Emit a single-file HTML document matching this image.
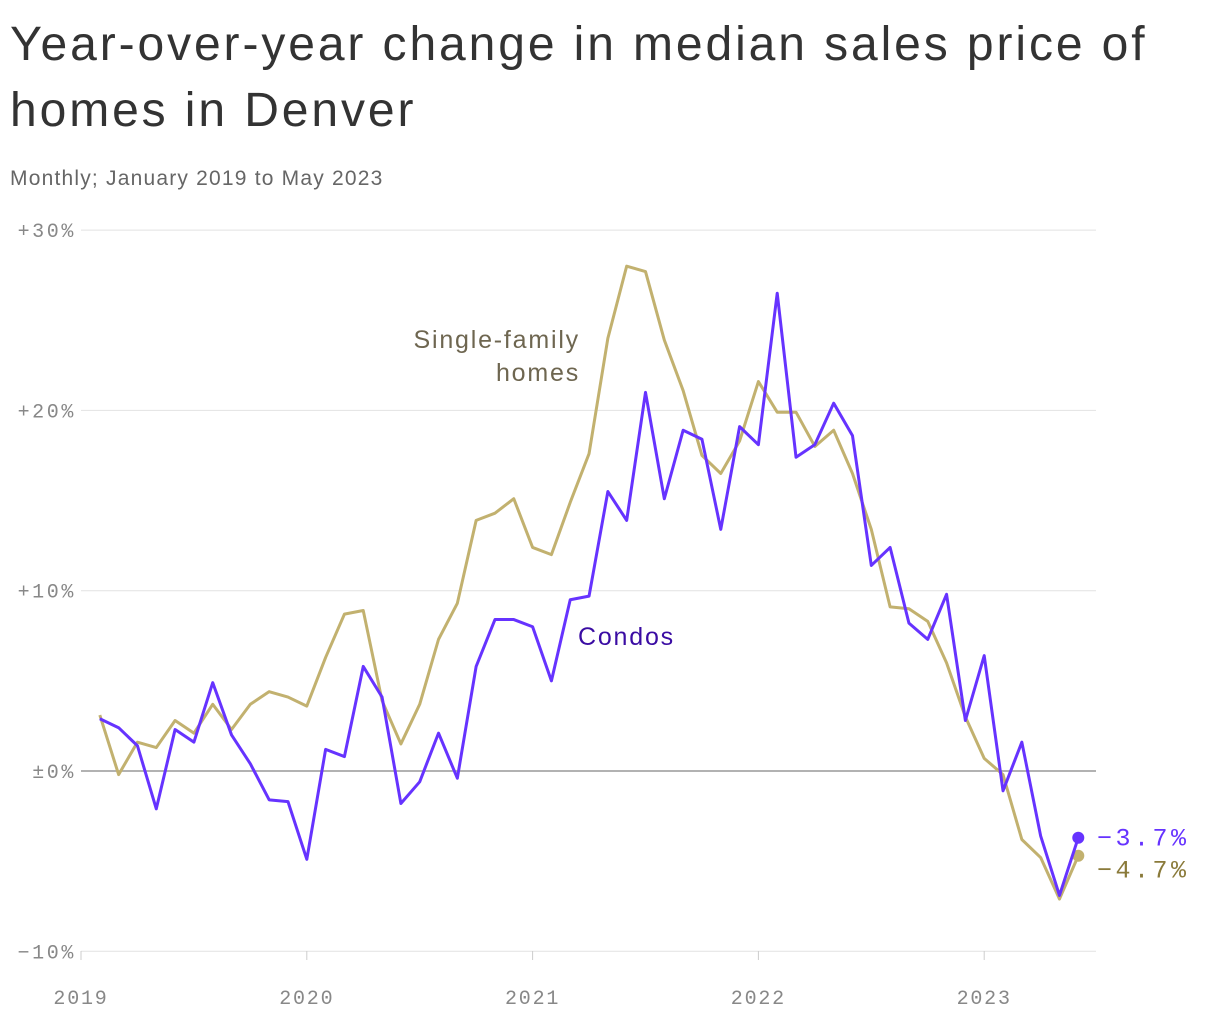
<!DOCTYPE html>
<html><head><meta charset="utf-8"><style>
body{margin:0;background:#fff;width:1220px;height:1020px;overflow:hidden;font-family:"Liberation Sans",sans-serif}
h1{position:absolute;left:10px;top:12px;margin:0;font-size:48px;font-weight:400;line-height:66px;color:#333;letter-spacing:2.9px}
.sub{position:absolute;left:10px;top:167px;font-size:21px;color:#666;letter-spacing:1.2px}
svg{position:absolute;left:0;top:0}
</style></head><body>
<h1>Year-over-year change in median sales price of<br>homes in Denver</h1>
<div class="sub">Monthly; January 2019 to May 2023</div>
<svg id="c" width="1220" height="1020"></svg>
<script>
const condos=[2.9,2.4,1.4,-2.1,2.3,1.6,4.9,2.0,0.4,-1.6,-1.7,-4.9,1.2,0.8,5.8,4.1,-1.8,-0.6,2.1,-0.4,5.8,8.4,8.4,8.0,5.0,9.5,9.7,15.5,13.9,21.0,15.1,18.9,18.4,13.4,19.1,18.1,26.5,17.4,18.1,20.4,18.6,11.4,12.4,8.2,7.3,9.8,2.8,6.4,-1.1,1.6,-3.6,-6.9,-3.7];
const single=[3.1,-0.2,1.6,1.3,2.8,2.1,3.7,2.3,3.7,4.4,4.1,3.6,6.3,8.7,8.9,3.9,1.5,3.7,7.3,9.3,13.9,14.3,15.1,12.4,12.0,14.9,17.6,24.0,28.0,27.7,23.9,21.1,17.5,16.5,18.3,21.6,19.9,19.9,18.0,18.9,16.5,13.4,9.1,9.0,8.3,6.0,3.0,0.7,-0.2,-3.8,-4.8,-7.1,-4.7];
const yTicks=[30,20,10,0,-10];
const yLabels=["+30%","+20%","+10%","±0%","\u221210%"];
const xYears=[2019,2020,2021,2022,2023];
const NS="http://www.w3.org/2000/svg";
const svg=document.getElementById('c');
const y=v=>771-v*18.03;
const x=m=>81+m*225.8/12;
function mk(t,a){const e=document.createElementNS(NS,t);for(const k in a)e.setAttribute(k,a[k]);svg.appendChild(e);return e;}
yTicks.forEach((v,i)=>{
 const l=mk('line',{x1:81,x2:1096,y1:y(v),y2:y(v),stroke:v===0?'#999':'#e2e2e2','stroke-width':v===0?1.5:1});
 
 
 const t=mk('text',{x:76,y:y(v)+7,'text-anchor':'end','font-family':'Liberation Mono, monospace','font-size':20,'letter-spacing':2.6,fill:'#888'});
 t.textContent=yLabels[i];
 
 
});
xYears.forEach((yr,i)=>{
 const xx=x(i*12);
 const l=mk('line',{x1:xx,x2:xx,y1:951,y2:960,stroke:'#ccc'});
 
 
 const t=mk('text',{x:xx,y:1004,'text-anchor':'middle','font-family':'Liberation Mono, monospace','font-size':20,'letter-spacing':1.8,fill:'#888'});
 t.textContent=yr;
 
 
});
function line(arr,col,name){
 const p=arr.map((v,i)=>x(i+1)+','+y(v)).join(' ');
 const l=mk('polyline',{points:p,fill:'none',stroke:col,'stroke-width':3,'stroke-linejoin':'round'});
 
 
 const n=arr.length;
 const d=mk('circle',{cx:x(n),cy:y(arr[n-1]),r:6,fill:col});
 
 
}
line(single,'#c2b16f','single-family-line');
line(condos,'#6633ff','condos-line');
function lab(txt,xx,yy,col,anchor,name,mono){
 const t=mk('text',{x:xx,y:yy,'text-anchor':anchor,'font-family':mono?'Liberation Mono, monospace':'Liberation Sans, sans-serif','font-size':mono?25:25,'letter-spacing':mono?3.5:1.8,fill:col});
 t.textContent=txt;
 
 
}
lab('\u22123.7%',1097,y(condos[condos.length-1])+8,'#6633ff','start','condos-end-label',true);
lab('\u22124.7%',1097,y(single[single.length-1])+22,'#8a7a3a','start','single-family-end-label',true);
lab('Single-family',580,348,'#6e6650','end','single-family-label');
lab('homes',580,381,'#6e6650','end','single-family-label-2');
lab('Condos',578,645,'#3a0ca3','start','condos-label');
</script>
</body></html>
